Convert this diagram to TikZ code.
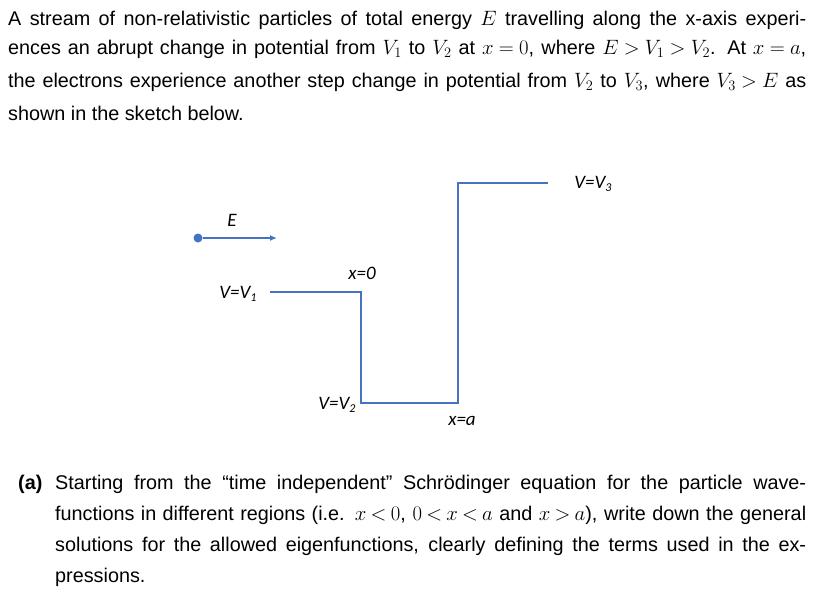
\documentclass[tikz,border=0pt]{standalone}
\usepackage{fontspec}
\usetikzlibrary{arrows.meta}
\setmainfont{Liberation Sans}
\newfontfamily\lab{Carlito}
\definecolor{potblue}{RGB}{68,114,196}
\newcommand{\lsub}[1]{\raisebox{-0.4ex}{\fontsize{12}{12}\selectfont #1}}
\tikzset{
  line/.style={anchor=west,inner sep=0pt,font=\fontsize{19.8}{22}\selectfont},
  lbl/.style={inner sep=0pt,font=\lab\itshape\fontsize{19}{22}\selectfont},
  pot/.style={draw=potblue,line width=1.3pt}
}
\begin{document}
\begin{tikzpicture}[x=1pt,y=-1pt]
\useasboundingbox (0,0) rectangle (817,605);
\node[line] (l1) at (8,20) {\makebox[798pt][s]{A stream of non-relativistic particles of total energy $E$ travelling along the x-axis experi-}};
\node[line] (l2) at (8,49) {\makebox[798pt][s]{ences an abrupt change in potential from $V_1$ to $V_2$ at $x\!=\!0$, where $E\!>\!V_1\!>\!V_2$. At $x\!=\!a$,}};
\node[line] (l3) at (8,82) {\makebox[798pt][s]{the electrons experience another step change in potential from $V_2$ to $V_3$, where $V_3\!>\!E$ as}};
\node[line] (l4) at (8,113) {shown in the sketch below.};

\coordinate (p0) at (270,292);
\coordinate (p1) at (361,292);
\coordinate (p2) at (361,403);
\coordinate (p3) at (458,403);
\coordinate (p4) at (458,183);
\coordinate (p5) at (548,183);
\draw[pot] (p0) -- (p1) -- (p2) -- (p3) -- (p4) -- (p5);

\node[lbl] (v1) at (238,294) {V=V\lsub{1}};
\node[lbl] (x0) at (362,273) {x=0};
\node[lbl] (v2) at (337,405) {V=V\lsub{2}};
\node[lbl] (xa) at (462,421) {x=a};
\node[lbl] (v3) at (593,184) {V=V\lsub{3}};
\node[lbl] (E) at (232,220) {E};
\node[circle,fill=potblue,inner sep=0pt,minimum size=9pt] (dot) at (198,238) {};
\coordinate (tip) at (277,238);
\draw[potblue,line width=1.3pt,-{Latex[length=7pt,width=6pt]}] (dot) -- (tip);

\node[line] (a1) at (18,484) {\textbf{(a)}};
\node[line] (a2) at (55,484) {\makebox[751pt][s]{Starting from the “time independent” Schrödinger equation for the particle wave-}};
\node[line] (a3) at (55,515) {\makebox[751pt][s]{functions in different regions (i.e. $x\!<\!0$, $0\!<\!x\!<\!a$ and $x\!>\!a$), write down the general}};
\node[line] (a4) at (55,546) {\makebox[751pt][s]{solutions for the allowed eigenfunctions, clearly defining the terms used in the ex-}};
\node[line] (a5) at (55,577) {pressions.};
\end{tikzpicture}
\end{document}
